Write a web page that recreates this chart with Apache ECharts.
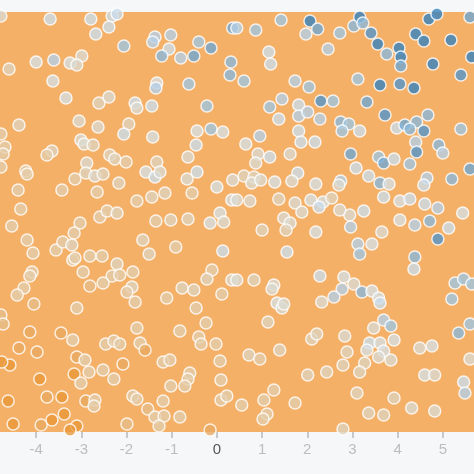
<!DOCTYPE html>
<html>
<head>
<meta charset="utf-8">
<script src="https://cdn.jsdelivr.net/npm/echarts@6/dist/echarts.min.js"></script>
<style>
  html, body { margin: 0; padding: 0; background: #f6f7f8; }
  #chart { width: 474px; height: 474px; }
</style>
</head>
<body>
<div id="chart"></div>
<script>
// [x, y, tone] — tone: negative = orange, positive = blue
const points = [
  [-4.78,416,0.1],[-3.69,413,0.3],[-2.79,413,0.3],[-2.32,416,0.3],[-2.21,418,0.3],[-2.39,405,0.3],[-2.68,398,0.3],
  [-1.37,395,0.4],[-1.02,397,0.4],[-1.42,390,0.4],[-2.06,386,0.5],[-1.06,383,0.3],[-0.40,390,0.5],[-0.13,384,0.7],
  [0.35,404,0.7],[-1.22,376,0.6],[-0.80,374,0.4],[-0.51,376,0.7],[0.31,370,0.6],[0.29,357,0.6],[-4.00,370,0.2],
  [-3.61,372,0.4],[-3.25,369,0.2],[-2.99,376,0.1],[-3.10,367,0.1],[-4.60,363,0],[-3.63,351,0.2],[-1.33,349,0.2],
  [-1.35,344,0.4],[-0.62,348,0.5],[-3.34,334,0.2],[-2.61,329,0],[-2.39,335,0.1],[-1.81,329,0.3],[-1.77,324,0.1],
  [-1.44,326,0.3],[-0.22,326,0.5],[-4.38,307,0],[-3.05,311,0.1],[-2.63,305,0.1],[-1.95,308,0],[-2.06,298,0.3],
  [-1.42,295,0.2],[-4.78,298,-0.1],[-4.69,285,-0.1],[-4.73,278,-0.1],[-4.78,265,-0.1],[-0.44,301,0.2],[-0.13,303,0.5],
  [0.13,300,0.2],[-0.46,287,0.3],[-3.01,292,0.1],[-2.94,288,0.1],[-2.74,287,0],[-3.65,281,0],[-3.76,277,-0.1],
  [-2.37,277,0],[-2.26,273,0],[-2.01,270,-0.1],[-1.33,270,0],[-2.88,269,0.1],[-0.64,275,0.1],[-4.23,261,-0.1],
  [-4.20,258,-0.1],[-3.14,253,-0.1],[-2.90,259,0],[-2.70,256,0.1],[-2.52,258,0],[-1.57,260,0.2],[-1.37,255,0.3],
  [-1.26,260,0.1],[-0.66,253,0.1],[-0.44,260,0.3],[0.35,252,0.1],[-4.40,242,-0.1],[-3.43,242,-0.1],[-2.65,240,-0.1],
  [-2.17,249,0],[-1.77,231,-0.1],[-1.44,235,0],[-1.15,239,0],[-0.55,239,-0.1],[0,245,0.2],[0.33,232,0.2],
  [-4.34,223,-0.1],[-2.59,215,-0.1],[-2.43,221,-0.1],[-2.21,219,0],[-1.35,211,-0.1],[-1.02,212,0],[-0.64,213,0],
  [-0.15,209,0.2],[0.07,219,0.2],[0.15,210,0.1],[-4.54,206,-0.1],[-3.03,209,-0.1],[-3.16,199,-0.1],
  [0.44,404,0.4],[0.86,402,0.5],[1.42,412,0.5],[2.06,411,0.9],[2.23,403,0.7],[1.97,398,0.4],[2.72,399,0.5],
  [3.03,406,0.6],[3.16,415,0.9],[3.23,409,0.6],[3.41,399,0.8],[3.56,388,0.9],[3.76,378,0.6],[4.03,384,0.9],
  [4.07,375,0.9],[4.07,366,0.7],[4.40,398,0.9],[4.58,391,0.9],[4.69,413,0.9],[4.87,418,0.9],[5.18,392,0.9],
  [5.60,415,0.7],[4.78,368,0.9],[5.40,357,0.8],[5.64,375,0.9],[1.15,380,0.3],[1.19,368,0.3],[2.46,383,0.4],
  [0.60,351,0.5],[1.73,351,0.4],[2.04,345,0.5],[3.12,353,0.5],[3.61,347,0.9],[4.05,348,0.8],[4.36,344,0.9],
  [1.17,325,0.5],[1.44,333,0.4],[1.81,327,0.3],[1.81,316,0.4],[2.01,320,0.4],[1.37,313,0.3],[2.28,313,0.4],
  [2.30,331,0.8],[2.57,331,0.5],[3.32,330,0.7],[3.72,317,0.8],[2.74,310,0.6],[2.92,308,0.5],[2.77,301,0.5],
  [3.16,301,0.3],[3.98,304,0.3],[4.16,307,0.7],[4.42,310,0.6],[4.67,317,0.6],[4.27,303,0.6],[4.58,301,0.8],
  [5.40,303,0.5],[1.81,301,0.3],[1.86,290,0.3],[2.17,290,0.3],[0.95,296,0.4],[0.64,288,0.2],[4.40,290,0.4],
  [4.42,280,0.8],[4.91,287,0.6],[5.00,279,0.4],[0.91,278,0.1],[1.17,275,0.3],[1.62,278,0.1],[0.86,269,0.1],
  [2.96,278,0.7],[3.58,275,0.5],[3.69,269,0.7],[3.92,273,0.3],[4.27,268,0.5],[3.08,264,0.3],[3.36,256,0.3],
  [1.79,259,0.3],[0.60,256,0],[0.82,255,0],[0.77,249,0.1],[0.97,252,0.1],[1.28,250,0.2],[1.66,251,0.1],
  [2.19,248,0.2],[2.74,251,0.4],[2.70,247,0.1],[3.61,249,0.6],[3.81,248,0.2],[4.65,254,0.4],[4.58,247,0.3],
  [5.20,253,0.6],[5.60,263,0.7],[0.44,232,0.1],[0.73,231,0.1],[1.37,233,0],[1.73,229,0.1],[2.08,232,0.2],
  [2.35,230,0.2],[2.54,234,0],[1.88,220,0.1],[2.26,225,0.3],[2.94,217,0.1],[3.25,221,0.3],[2.72,222,0.1],
  [3.69,235,0.3],[4.05,231,0.2],[4.27,233,0.3],[4.60,228,0.3],[4.89,224,0.4],[5.44,219,0.2],[1.48,214,0.1],
  [1.62,209,0.1],[1.00,202,0],[1.53,202,0],[2.19,200,0.2],[2.96,205,0.4],[4.05,212,0.2],[4.38,207,0.4],
  [4.71,211,0.6],[5.13,204,0.3],[3.65,200,0.1],
  [-4.20,192,-0.1],[-4.07,179,-0.1],[-3.56,182,-0.1],[-3.41,190,-0.1],[-3.21,187,0],[-3.19,172,-0.1],[-2.81,176,-0.1],
  [-2.54,176,-0.1],[-3.14,174,-0.1],[-4.09,160,-0.1],[-4.14,156,-0.1],[-2.96,160,-0.1],[-2.21,168,0],[-2.32,156,-0.1],
  [-2.15,157,-0.1],[-1.86,160,-0.1],[-2.52,149,-0.1],[-2.81,146,-0.2],[-1.88,145,0],[-1.99,140,-0.1],[-1.81,130,-0.1],
  [-1.64,192,0],[-1.50,178,0],[-0.91,185,-0.1],[0.13,181,0.3],[0.33,152,0.1],[-0.11,162,-0.1],[-0.22,153,0],
  [-0.77,144,0],[-0.51,142,0],[0.11,138,-0.1],[-1.11,134,-0.1],[-4.27,144,-0.1],[-4.42,137,-0.1],[-4.05,128,-0.2],
  [-3.10,124,-0.1],[-0.46,124,-0.1],[-4.78,117,-0.2],[-4.73,108,-0.2],[-4.14,100,-0.3],[-3.45,99,-0.3],[-3.19,92,-0.1],
  [-2.46,88,-0.1],[-2.28,91,-0.1],[-2.15,88,-0.1],[-1.77,104,-0.1],[-1.70,89,-0.1],[-1.59,82,-0.3],[-0.82,101,-0.1],
  [-0.24,109,-0.1],[-0.40,95,-0.1],[-0.35,88,-0.1],[-0.02,88,-0.1],[-4.38,84,-0.3],[-3.98,80,-0.3],[-3.10,75,-0.3],
  [-2.92,72,-0.1],[-4.58,67,-0.4],[-4.76,70,-0.4],[-2.08,68,-0.3],[-1.19,70,-0.1],[-1.04,72,-0.1],[-2.83,60,-0.1],
  [-2.52,62,-0.1],[-3.16,58,-0.4],[-2.28,53,-0.1],[-3.01,49,-0.1],[-3.92,53,-0.4],[-0.60,59,-0.1],[-0.64,53,-0.1],
  [0.07,71,-0.1],[0.09,52,-0.1],[-1.02,46,-0.1],[-0.71,46,-0.1],[-3.76,35,-0.3],[-3.43,35,-0.4],[-4.62,31,-0.4],
  [-2.90,31,-0.3],[-2.70,32,-0.1],[-2.72,26,-0.1],[-1.86,36,-0.1],[-1.77,33,-0.1],[-1.19,31,-0.1],[-1.53,23,-0.2],
  [-1.37,15,-0.1],[-1.17,16,-0.1],[-0.82,15,-0.1],[0.09,32,-0.1],[0.22,36,-0.1],[-3.38,18,-0.4],[-3.65,12,-0.4],
  [-3.89,7,-0.3],[-4.51,8,-0.4],[-3.10,6,-0.4],[-3.25,2,-0.4],[-1.99,8,-0.2],[-1.28,6,-0.1],[-0.15,2,-0.3],
  [1.55,180,0.3],[3.12,188,0.4],[3.43,188,0.2],[3.16,178,0.5],[4.89,193,0.8],[4.38,175,0.6],[4.36,163,0.3],
  [0.44,152,0.1],[0.82,152,0],[1.26,147,0.1],[1.22,143,0.1],[2.28,156,0.3],[2.81,155,0.2],[3.03,148,0.1],
  [3.21,140,0.6],[3.43,141,0.2],[2.77,143,0.4],[2.59,135,0.4],[2.32,130,0.1],[3.58,134,0.2],[3.61,129,0.3],
  [1.33,129,0.2],[1.44,124,0.1],[1.48,128,0.1],[1.13,110,0],[3.69,112,0.4],[3.85,106,0.5],[3.47,104,0.1],
  [2.10,93,0],[2.21,98,0],[2.83,96,0.1],[3.38,89,0.3],[3.61,89,0.2],[3.92,92,0.2],[3.32,82,0.2],
  [3.69,81,0.2],[3.58,75,0.1],[3.85,72,0.1],[3.27,69,0],[2.88,80,0],[2.79,67,0],[2.43,60,0],
  [2.01,57,0],[3.16,60,0],[1.39,82,0],[0.71,77,0],[0.95,73,-0.1],[4.49,84,0.1],[4.76,86,0.2],
  [4.60,57,0.2],[4.82,57,0.1],[5.27,149,0.5],[5.46,153,0.5],[5.20,133,0.5],[5.64,148,0.5],[5.35,99,0.6],
  [5.60,108,0.5],[5.60,73,0.1],[5.46,50,0.3],[5.49,39,0.4],[1.26,42,-0.1],[0.55,27,-0.1],[1.04,32,-0.1],
  [1.11,18,-0.1],[1.02,13,-0.1],[1.73,29,-0.1],[3.10,39,0],[3.92,34,0],[4.31,24,0.1],[3.36,19,0],
  [3.69,17,0],[4.82,21,0.1],[2.79,3,0]
];
const xTicks = [-4, -3, -2, -1, 0, 1, 2, 3, 4, 5];

const chart = echarts.init(document.getElementById('chart'));
chart.setOption({
  backgroundColor: '#f6f7f8',
  animation: false,
  grid: {
    left: 0, right: 0, top: 12, bottom: 42,
    show: true, backgroundColor: '#f5b067', borderWidth: 0
  },
  xAxis: {
    type: 'value',
    min: -4.8,
    max: 5.69,
    splitLine: { show: false },
    axisLine: { show: false },
    axisTick: { show: true, length: 6, customValues: xTicks, lineStyle: { color: '#c8c8c8', width: 2 } },
    axisLabel: {
      customValues: xTicks,
      margin: 10,
      fontSize: 15,
      color: '#bdbdbd',
      formatter: v => v === 0 ? '{z|0}' : String(v),
      rich: { z: { color: '#555', fontSize: 15 } }
    }
  },
  yAxis: { type: 'value', min: 0, max: 420, show: false },
  visualMap: {
    show: false,
    dimension: 2,
    min: -0.5,
    max: 1,
    inRange: { color: ['#ec8512', '#e4cba6', '#d4e2ee', '#86b6da', '#1670b8'] }
  },
  series: [{
    type: 'scatter',
    data: points,
    symbolSize: 12,
    itemStyle: { opacity: 0.8, borderColor: '#fff', borderWidth: 1.5 }
  }]
});
</script>
</body>
</html>
